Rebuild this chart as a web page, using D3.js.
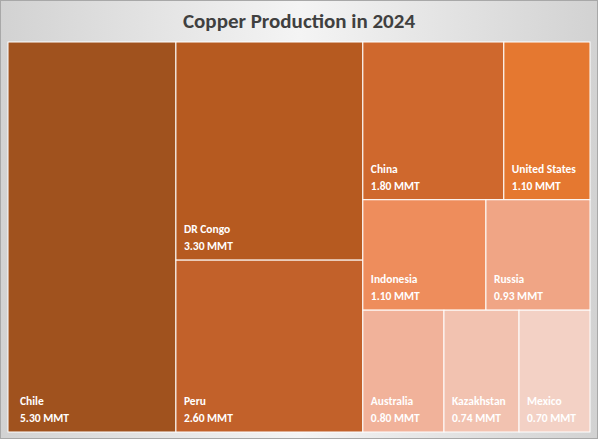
<!DOCTYPE html>
<html><head><meta charset="utf-8">
<script src="https://cdn.jsdelivr.net/npm/d3@7"></script>
<style>
body{margin:0;background:#fff;}
svg{display:block;font-family:Calibri,"Liberation Sans",Arial,sans-serif;}
</style></head>
<body><svg id="chart" width="598" height="439"></svg>
<script>
const countries = ["Chile","DR Congo","Peru","China","United States","Indonesia","Russia","Australia","Kazakhstan","Mexico"];
const output = [5.3,3.3,2.6,1.8,1.1,1.1,0.93,0.8,0.74,0.7];
const colors = ["#a0521e","#b65a20","#c2612a","#cf682d","#e57830","#ee8d5c","#f0a585","#f1b29a","#f2c2b0","#f3d1c5"];
// grouping of the layout: columns, then rows inside the last column
const groups = [[0],[1,2],[[3,4],[5,6],[7,8,9]]];

const width = 598, height = 439;
const svg = d3.select("#chart");

const defs = svg.append("defs");
const grad = defs.append("linearGradient").attr("id","bg").attr("x1",0).attr("x2",1).attr("y1",0).attr("y2",0);
grad.append("stop").attr("offset","0%").attr("stop-color","#d2d2d2");
grad.append("stop").attr("offset","50%").attr("stop-color","#f4f4f4");
grad.append("stop").attr("offset","100%").attr("stop-color","#d2d2d2");

svg.append("rect").attr("x",0.5).attr("y",0.5).attr("width",width-1).attr("height",height-1)
  .attr("fill","url(#bg)").attr("stroke","#a8a8a8");

svg.append("text").attr("x",width/2).attr("y",28).attr("text-anchor","middle")
  .attr("font-size",21).attr("font-weight","bold").attr("fill","#404040")
  .text("Copper Production in 2024");

function build(g) {
  if (typeof g === "number") return {name: countries[g], value: output[g], i: g};
  return {children: g.map(build)};
}
const root = d3.hierarchy({children: groups.map(build)}).sum(d => d.value || 0);
d3.treemap().tile(d3.treemapSliceDice).size([582, 390])(root);

const cells = svg.append("g").attr("transform","translate(8,42)")
  .selectAll("g").data(root.leaves()).join("g")
  .attr("transform", d => `translate(${d.x0},${d.y0})`);

cells.append("rect")
  .attr("width", d => d.x1 - d.x0).attr("height", d => d.y1 - d.y0)
  .attr("fill", d => colors[d.data.i]).attr("stroke","#fff").attr("stroke-width",1);

const pad = d => d.data.i === 0 ? 12 : 8;
cells.append("text").attr("x", pad).attr("y", d => d.y1 - d.y0 - 27)
  .attr("fill","#fff").attr("font-size",11.5).attr("font-weight","bold")
  .text(d => d.data.name);
cells.append("text").attr("x", pad).attr("y", d => d.y1 - d.y0 - 10)
  .attr("fill","#fff").attr("font-size",11.5).attr("font-weight","bold")
  .text(d => d3.format(".2f")(d.data.value) + " MMT");
</script></body></html>
